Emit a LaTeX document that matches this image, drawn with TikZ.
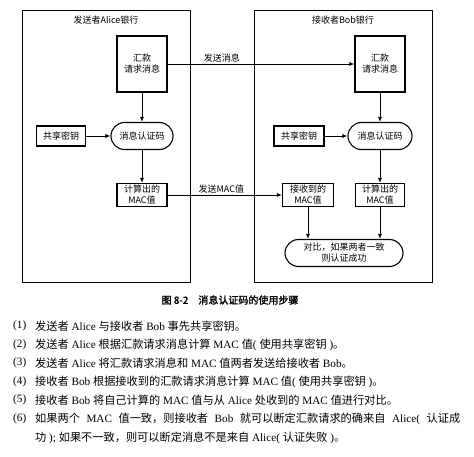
\documentclass[tikz,border=0pt]{standalone}
\usepackage{fontspec}
\setmainfont{Liberation Serif}
\newfontfamily\cjk{Noto Sans CJK SC}
\newfontfamily\capfont[FakeBold=1.5]{Noto Sans CJK SC}
\newcommand{\zh}[1]{{\cjk #1}}
\usetikzlibrary{arrows.meta,positioning}

\begin{document}
\begin{tikzpicture}[x=1pt,y=-1pt,>={Latex[length=5pt,width=4pt]},line cap=round,
    bank/.style={draw,line width=0.9pt},
    box/.style={draw,line width=1.1pt,align=center,inner sep=1pt,
                font=\cjk\fontsize{9}{11}\selectfont},
    pill/.style={box,rounded corners=13.5pt,minimum height=27},
    lbl/.style={font=\cjk\fontsize{9}{11}\selectfont,inner sep=2pt},
    item/.style={anchor=west,inner sep=0pt,font=\fontsize{11.2}{13}\selectfont}]
  \useasboundingbox (0,0) rectangle (474,456);
  % the two banks
  \node[bank,minimum width=168,minimum height=272] (alice) at (106,146) {};
  \node[bank,minimum width=178,minimum height=272] (bob) at (343,146) {};
  \node[lbl,below=4pt of alice.north] (alicetitle) {发送者Alice银行};
  \node[lbl,below=4pt of bob.north] (bobtitle) {接收者Bob银行};
  % sender side
  \node[box,minimum width=50,minimum height=56] (amsg) at (142,64) {汇款\\请求消息};
  \node[pill,minimum width=62] (amac) at (142,136) {消息认证码};
  \node[box,minimum width=49,minimum height=20] (akey) at (61,136) {共享密钥};
  \node[box,minimum width=50,minimum height=23] (acalc) at (142,195) {计算出的\\MAC值};
  % receiver side
  \node[box,minimum width=50,minimum height=56] (bmsg) at (380,64) {汇款\\请求消息};
  \node[pill,minimum width=64] (bmac) at (380,136) {消息认证码};
  \node[box,minimum width=50,minimum height=20] (bkey) at (299,136) {共享密钥};
  \node[box,minimum width=51,minimum height=23] (brecv) at (308,195) {接收到的\\MAC值};
  \node[box,minimum width=49,minimum height=23] (bcalc) at (380,195) {计算出的\\MAC值};
  \node[pill,minimum width=118] (check) at (344,253) {对比，如果两者一致\\则认证成功};
  % connectors
  \foreach \a/\b in {amsg/amac, akey/amac, amac/acalc,
                     bmsg/bmac, bkey/bmac, bmac/bcalc}{
    \draw[->,line width=0.9pt] (\a) -- (\b);
  }
  \draw[->,line width=0.9pt] (amsg) -- node[lbl,above=-1pt,pos=0.29] {发送消息} (bmsg);
  \draw[->,line width=0.9pt] (acalc) -- node[lbl,above=-1pt,pos=0.47] {发送MAC值} (brecv);
  \draw[->,line width=0.9pt] (brecv) -- (brecv |- check.north);
  \draw[->,line width=0.9pt] (bcalc) -- (bcalc |- check.north);
  % caption and steps
  \node[font=\capfont\fontsize{10}{12}\selectfont] (caption) at (230,300)
    {图 8-2\quad 消息认证码的使用步骤};
  \foreach \k/\y/\txt in {
      1/326/{\zh{发送者} Alice \zh{与接收者} Bob \zh{事先共享密钥。}},
      2/345/{\zh{发送者} Alice \zh{根据汇款请求消息计算} MAC \zh{值}( \zh{使用共享密钥} )\zh{。}},
      3/363/{\zh{发送者} Alice \zh{将汇款请求消息和} MAC \zh{值两者发送给接收者} Bob\zh{。}},
      4/382/{\zh{接收者} Bob \zh{根据接收到的汇款请求消息计算} MAC \zh{值}( \zh{使用共享密钥} )\zh{。}},
      5/400/{\zh{接收者} Bob \zh{将自己计算的} MAC \zh{值与从} Alice \zh{处收到的} MAC \zh{值进行对比。}},
      6/419/{\makebox[425pt][s]{\zh{如果两个} MAC \zh{值一致，则接收者} Bob \zh{就可以断定汇款请求的确来自} Alice( \zh{认证成}}}}{
    \node[item] (num\k) at (13,\y) {(\k)};
    \node[item] (item\k) at (35,\y) {\txt};
  }
  \node[item] (item7) at (35,438) {\zh{功} ); \zh{如果不一致，则可以断定消息不是来自} Alice( \zh{认证失败} )\zh{。}};
\end{tikzpicture}
\end{document}
